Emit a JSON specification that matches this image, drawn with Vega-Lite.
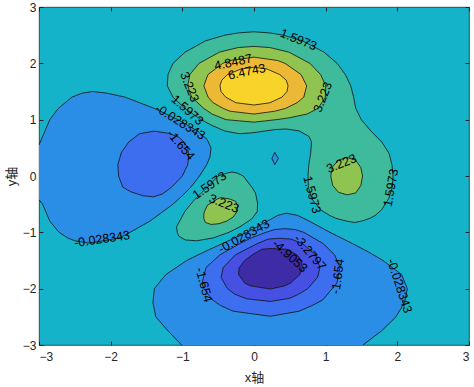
{
"$schema":"https://vega.github.io/schema/vega-lite/v6.json",
"width":430,"height":338,
"autosize":{"type":"none"},
"padding":{"left":39,"top":7,"right":5,"bottom":42},
"background":"#ffffff",
"config":{
"view":{"fill":"#14b3c9","stroke":"#262626","strokeWidth":0.8},
"axis":{"grid":false,"domain":false,"tickColor":"#262626","tickSize":-4,"labelColor":"#262626","labelFont":"Liberation Sans","labelFontSize":12,"titleFont":"Liberation Sans, Noto Sans CJK SC","titleFontSize":13,"titleFontWeight":"normal","titleColor":"#262626"}
},
"datasets":{
"poly":[
{"p":"a","c":"L3","d":1,"i":0,"x":-3.15,"y":0.55},{"p":"a","c":"L3","d":1,"i":1,"x":-3.0,"y":0.55},{"p":"a","c":"L3","d":1,"i":2,"x":-2.85,"y":1.0},{"p":"a","c":"L3","d":1,"i":3,"x":-2.73,"y":1.2},{"p":"a","c":"L3","d":1,"i":4,"x":-2.54,"y":1.4},{"p":"a","c":"L3","d":1,"i":5,"x":-2.4,"y":1.47},{"p":"a","c":"L3","d":1,"i":6,"x":-2.25,"y":1.5},{"p":"a","c":"L3","d":1,"i":7,"x":-2.05,"y":1.47},{"p":"a","c":"L3","d":1,"i":8,"x":-1.8,"y":1.4},{"p":"a","c":"L3","d":1,"i":9,"x":-1.39,"y":1.2},{"p":"a","c":"L3","d":1,"i":10,"x":-1.06,"y":1.0},{"p":"a","c":"L3","d":1,"i":11,"x":-0.79,"y":0.8},{"p":"a","c":"L3","d":1,"i":12,"x":-0.655,"y":0.65},{"p":"a","c":"L3","d":1,"i":13,"x":-0.6,"y":0.5},{"p":"a","c":"L3","d":1,"i":14,"x":-0.614,"y":0.34},{"p":"a","c":"L3","d":1,"i":15,"x":-0.66,"y":0.2},{"p":"a","c":"L3","d":1,"i":16,"x":-0.76,"y":0},{"p":"a","c":"L3","d":1,"i":17,"x":-0.883,"y":-0.2},{"p":"a","c":"L3","d":1,"i":18,"x":-1.0,"y":-0.35},{"p":"a","c":"L3","d":1,"i":19,"x":-1.13,"y":-0.5},{"p":"a","c":"L3","d":1,"i":20,"x":-1.45,"y":-0.8},{"p":"a","c":"L3","d":1,"i":21,"x":-1.73,"y":-1.0},{"p":"a","c":"L3","d":1,"i":22,"x":-1.88,"y":-1.1},{"p":"a","c":"L3","d":1,"i":23,"x":-2.1,"y":-1.15},{"p":"a","c":"L3","d":1,"i":24,"x":-2.3,"y":-1.19},{"p":"a","c":"L3","d":1,"i":25,"x":-2.5,"y":-1.15},{"p":"a","c":"L3","d":1,"i":26,"x":-2.6,"y":-1.1},{"p":"a","c":"L3","d":1,"i":27,"x":-2.72,"y":-1.0},{"p":"a","c":"L3","d":1,"i":28,"x":-2.85,"y":-0.8},{"p":"a","c":"L3","d":1,"i":29,"x":-2.95,"y":-0.5},{"p":"a","c":"L3","d":1,"i":30,"x":-3.0,"y":-0.42},{"p":"a","c":"L3","d":1,"i":31,"x":-3.15,"y":-0.42},{"p":"a","c":"L3","d":1,"i":32,"x":-3.15,"y":0.55},
{"p":"b","c":"L5","d":1,"i":0,"x":0,"y":2.56},{"p":"b","c":"L5","d":1,"i":1,"x":0.22,"y":2.54},{"p":"b","c":"L5","d":1,"i":2,"x":0.405,"y":2.5},{"p":"b","c":"L5","d":1,"i":3,"x":0.675,"y":2.4},{"p":"b","c":"L5","d":1,"i":4,"x":0.975,"y":2.2},{"p":"b","c":"L5","d":1,"i":5,"x":1.16,"y":2.0},{"p":"b","c":"L5","d":1,"i":6,"x":1.275,"y":1.8},{"p":"b","c":"L5","d":1,"i":7,"x":1.35,"y":1.6},{"p":"b","c":"L5","d":1,"i":8,"x":1.39,"y":1.4},{"p":"b","c":"L5","d":1,"i":9,"x":1.42,"y":1.2},{"p":"b","c":"L5","d":1,"i":10,"x":1.497,"y":1.0},{"p":"b","c":"L5","d":1,"i":11,"x":1.63,"y":0.8},{"p":"b","c":"L5","d":1,"i":12,"x":1.785,"y":0.6},{"p":"b","c":"L5","d":1,"i":13,"x":1.885,"y":0.4},{"p":"b","c":"L5","d":1,"i":14,"x":1.925,"y":0.2},{"p":"b","c":"L5","d":1,"i":15,"x":1.94,"y":0},{"p":"b","c":"L5","d":1,"i":16,"x":1.93,"y":-0.2},{"p":"b","c":"L5","d":1,"i":17,"x":1.88,"y":-0.4},{"p":"b","c":"L5","d":1,"i":18,"x":1.78,"y":-0.6},{"p":"b","c":"L5","d":1,"i":19,"x":1.69,"y":-0.7},{"p":"b","c":"L5","d":1,"i":20,"x":1.62,"y":-0.75},{"p":"b","c":"L5","d":1,"i":21,"x":1.505,"y":-0.8},{"p":"b","c":"L5","d":1,"i":22,"x":1.4,"y":-0.825},{"p":"b","c":"L5","d":1,"i":23,"x":1.29,"y":-0.8},{"p":"b","c":"L5","d":1,"i":24,"x":1.14,"y":-0.75},{"p":"b","c":"L5","d":1,"i":25,"x":1.055,"y":-0.7},{"p":"b","c":"L5","d":1,"i":26,"x":0.93,"y":-0.6},{"p":"b","c":"L5","d":1,"i":27,"x":0.804,"y":-0.4},{"p":"b","c":"L5","d":1,"i":28,"x":0.76,"y":-0.2},{"p":"b","c":"L5","d":1,"i":29,"x":0.753,"y":0},{"p":"b","c":"L5","d":1,"i":30,"x":0.765,"y":0.2},{"p":"b","c":"L5","d":1,"i":31,"x":0.79,"y":0.4},{"p":"b","c":"L5","d":1,"i":32,"x":0.803,"y":0.6},{"p":"b","c":"L5","d":1,"i":33,"x":0.77,"y":0.7},{"p":"b","c":"L5","d":1,"i":34,"x":0.63,"y":0.8},{"p":"b","c":"L5","d":1,"i":35,"x":0.45,"y":0.835},{"p":"b","c":"L5","d":1,"i":36,"x":0.3,"y":0.825},{"p":"b","c":"L5","d":1,"i":37,"x":0.16,"y":0.8},{"p":"b","c":"L5","d":1,"i":38,"x":0,"y":0.77},{"p":"b","c":"L5","d":1,"i":39,"x":-0.2,"y":0.75},{"p":"b","c":"L5","d":1,"i":40,"x":-0.41,"y":0.8},{"p":"b","c":"L5","d":1,"i":41,"x":-0.59,"y":0.9},{"p":"b","c":"L5","d":1,"i":42,"x":-0.735,"y":1.0},{"p":"b","c":"L5","d":1,"i":43,"x":-0.965,"y":1.2},{"p":"b","c":"L5","d":1,"i":44,"x":-1.13,"y":1.4},{"p":"b","c":"L5","d":1,"i":45,"x":-1.21,"y":1.6},{"p":"b","c":"L5","d":1,"i":46,"x":-1.2,"y":1.8},{"p":"b","c":"L5","d":1,"i":47,"x":-1.13,"y":2.0},{"p":"b","c":"L5","d":1,"i":48,"x":-0.96,"y":2.2},{"p":"b","c":"L5","d":1,"i":49,"x":-0.675,"y":2.4},{"p":"b","c":"L5","d":1,"i":50,"x":-0.405,"y":2.5},{"p":"b","c":"L5","d":1,"i":51,"x":-0.22,"y":2.54},{"p":"b","c":"L5","d":1,"i":52,"x":0,"y":2.56},
{"p":"c","c":"L5","d":1,"i":0,"x":-0.307,"y":0.071},{"p":"c","c":"L5","d":1,"i":1,"x":-0.23,"y":0.05},{"p":"c","c":"L5","d":1,"i":2,"x":-0.15,"y":0},{"p":"c","c":"L5","d":1,"i":3,"x":-0.03,"y":-0.2},{"p":"c","c":"L5","d":1,"i":4,"x":0.02,"y":-0.3},{"p":"c","c":"L5","d":1,"i":5,"x":0.05,"y":-0.48},{"p":"c","c":"L5","d":1,"i":6,"x":0.045,"y":-0.63},{"p":"c","c":"L5","d":1,"i":7,"x":-0.03,"y":-0.76},{"p":"c","c":"L5","d":1,"i":8,"x":-0.195,"y":-0.9},{"p":"c","c":"L5","d":1,"i":9,"x":-0.35,"y":-1.0},{"p":"c","c":"L5","d":1,"i":10,"x":-0.57,"y":-1.1},{"p":"c","c":"L5","d":1,"i":11,"x":-0.8,"y":-1.15},{"p":"c","c":"L5","d":1,"i":12,"x":-0.96,"y":-1.135},{"p":"c","c":"L5","d":1,"i":13,"x":-1.05,"y":-1.065},{"p":"c","c":"L5","d":1,"i":14,"x":-1.07,"y":-1.0},{"p":"c","c":"L5","d":1,"i":15,"x":-1.08,"y":-0.9},{"p":"c","c":"L5","d":1,"i":16,"x":-1.02,"y":-0.76},{"p":"c","c":"L5","d":1,"i":17,"x":-0.965,"y":-0.63},{"p":"c","c":"L5","d":1,"i":18,"x":-0.85,"y":-0.45},{"p":"c","c":"L5","d":1,"i":19,"x":-0.735,"y":-0.3},{"p":"c","c":"L5","d":1,"i":20,"x":-0.65,"y":-0.2},{"p":"c","c":"L5","d":1,"i":21,"x":-0.5,"y":0},{"p":"c","c":"L5","d":1,"i":22,"x":-0.38,"y":0.05},{"p":"c","c":"L5","d":1,"i":23,"x":-0.307,"y":0.071},
{"p":"e","c":"L3","d":1,"i":0,"x":-1.01,"y":-3.15},{"p":"e","c":"L3","d":1,"i":1,"x":-1.01,"y":-3.0},{"p":"e","c":"L3","d":1,"i":2,"x":-1.2,"y":-2.75},{"p":"e","c":"L3","d":1,"i":3,"x":-1.37,"y":-2.5},{"p":"e","c":"L3","d":1,"i":4,"x":-1.41,"y":-2.25},{"p":"e","c":"L3","d":1,"i":5,"x":-1.39,"y":-2.0},{"p":"e","c":"L3","d":1,"i":6,"x":-1.23,"y":-1.75},{"p":"e","c":"L3","d":1,"i":7,"x":-0.94,"y":-1.5},{"p":"e","c":"L3","d":1,"i":8,"x":-0.78,"y":-1.4},{"p":"e","c":"L3","d":1,"i":9,"x":-0.615,"y":-1.3},{"p":"e","c":"L3","d":1,"i":10,"x":-0.44,"y":-1.2},{"p":"e","c":"L3","d":1,"i":11,"x":-0.27,"y":-1.1},{"p":"e","c":"L3","d":1,"i":12,"x":-0.1,"y":-1.0},{"p":"e","c":"L3","d":1,"i":13,"x":0.045,"y":-0.9},{"p":"e","c":"L3","d":1,"i":14,"x":0.185,"y":-0.8},{"p":"e","c":"L3","d":1,"i":15,"x":0.26,"y":-0.75},{"p":"e","c":"L3","d":1,"i":16,"x":0.33,"y":-0.7},{"p":"e","c":"L3","d":1,"i":17,"x":0.45,"y":-0.66},{"p":"e","c":"L3","d":1,"i":18,"x":0.61,"y":-0.7},{"p":"e","c":"L3","d":1,"i":19,"x":0.77,"y":-0.8},{"p":"e","c":"L3","d":1,"i":20,"x":1.06,"y":-1.0},{"p":"e","c":"L3","d":1,"i":21,"x":1.375,"y":-1.2},{"p":"e","c":"L3","d":1,"i":22,"x":1.6,"y":-1.35},{"p":"e","c":"L3","d":1,"i":23,"x":1.8,"y":-1.5},{"p":"e","c":"L3","d":1,"i":24,"x":2.06,"y":-1.75},{"p":"e","c":"L3","d":1,"i":25,"x":2.14,"y":-2.0},{"p":"e","c":"L3","d":1,"i":26,"x":2.1,"y":-2.25},{"p":"e","c":"L3","d":1,"i":27,"x":1.98,"y":-2.5},{"p":"e","c":"L3","d":1,"i":28,"x":1.78,"y":-2.75},{"p":"e","c":"L3","d":1,"i":29,"x":1.52,"y":-3.0},{"p":"e","c":"L3","d":1,"i":30,"x":1.52,"y":-3.15},{"p":"e","c":"L3","d":1,"i":31,"x":-1.01,"y":-3.15},
{"p":"f","c":"L3","d":1,"i":0,"x":0.29,"y":0.42},{"p":"f","c":"L3","d":1,"i":1,"x":0.34,"y":0.31},{"p":"f","c":"L3","d":1,"i":2,"x":0.29,"y":0.2},{"p":"f","c":"L3","d":1,"i":3,"x":0.25,"y":0.31},{"p":"f","c":"L3","d":1,"i":4,"x":0.29,"y":0.42},
{"p":"g","c":"L2","d":2,"i":0,"x":-1.4,"y":0.796},{"p":"g","c":"L2","d":2,"i":1,"x":-1.2,"y":0.76},{"p":"g","c":"L2","d":2,"i":2,"x":-1.05,"y":0.69},{"p":"g","c":"L2","d":2,"i":3,"x":-0.975,"y":0.6},{"p":"g","c":"L2","d":2,"i":4,"x":-0.925,"y":0.5},{"p":"g","c":"L2","d":2,"i":5,"x":-0.91,"y":0.35},{"p":"g","c":"L2","d":2,"i":6,"x":-0.925,"y":0.2},{"p":"g","c":"L2","d":2,"i":7,"x":-1.0,"y":0},{"p":"g","c":"L2","d":2,"i":8,"x":-1.15,"y":-0.2},{"p":"g","c":"L2","d":2,"i":9,"x":-1.28,"y":-0.32},{"p":"g","c":"L2","d":2,"i":10,"x":-1.4,"y":-0.37},{"p":"g","c":"L2","d":2,"i":11,"x":-1.55,"y":-0.35},{"p":"g","c":"L2","d":2,"i":12,"x":-1.72,"y":-0.28},{"p":"g","c":"L2","d":2,"i":13,"x":-1.83,"y":-0.2},{"p":"g","c":"L2","d":2,"i":14,"x":-1.89,"y":0},{"p":"g","c":"L2","d":2,"i":15,"x":-1.9,"y":0.2},{"p":"g","c":"L2","d":2,"i":16,"x":-1.85,"y":0.42},{"p":"g","c":"L2","d":2,"i":17,"x":-1.75,"y":0.6},{"p":"g","c":"L2","d":2,"i":18,"x":-1.6,"y":0.75},{"p":"g","c":"L2","d":2,"i":19,"x":-1.4,"y":0.796},
{"p":"h","c":"L6","d":2,"i":0,"x":0,"y":2.3},{"p":"h","c":"L6","d":2,"i":1,"x":0.22,"y":2.28},{"p":"h","c":"L6","d":2,"i":2,"x":0.485,"y":2.2},{"p":"h","c":"L6","d":2,"i":3,"x":0.78,"y":2.0},{"p":"h","c":"L6","d":2,"i":4,"x":0.93,"y":1.8},{"p":"h","c":"L6","d":2,"i":5,"x":1.0,"y":1.6},{"p":"h","c":"L6","d":2,"i":6,"x":0.996,"y":1.4},{"p":"h","c":"L6","d":2,"i":7,"x":0.893,"y":1.2},{"p":"h","c":"L6","d":2,"i":8,"x":0.74,"y":1.1},{"p":"h","c":"L6","d":2,"i":9,"x":0.5,"y":1.035},{"p":"h","c":"L6","d":2,"i":10,"x":0.31,"y":1.0},{"p":"h","c":"L6","d":2,"i":11,"x":0,"y":0.956},{"p":"h","c":"L6","d":2,"i":12,"x":-0.39,"y":1.0},{"p":"h","c":"L6","d":2,"i":13,"x":-0.585,"y":1.1},{"p":"h","c":"L6","d":2,"i":14,"x":-0.7,"y":1.2},{"p":"h","c":"L6","d":2,"i":15,"x":-0.87,"y":1.4},{"p":"h","c":"L6","d":2,"i":16,"x":-0.925,"y":1.6},{"p":"h","c":"L6","d":2,"i":17,"x":-0.895,"y":1.8},{"p":"h","c":"L6","d":2,"i":18,"x":-0.767,"y":2.0},{"p":"h","c":"L6","d":2,"i":19,"x":-0.48,"y":2.2},{"p":"h","c":"L6","d":2,"i":20,"x":-0.22,"y":2.28},{"p":"h","c":"L6","d":2,"i":21,"x":0,"y":2.3},
{"p":"k","c":"L6","d":2,"i":0,"x":1.29,"y":0.33},{"p":"k","c":"L6","d":2,"i":1,"x":1.42,"y":0.28},{"p":"k","c":"L6","d":2,"i":2,"x":1.49,"y":0.15},{"p":"k","c":"L6","d":2,"i":3,"x":1.515,"y":0},{"p":"k","c":"L6","d":2,"i":4,"x":1.49,"y":-0.17},{"p":"k","c":"L6","d":2,"i":5,"x":1.42,"y":-0.3},{"p":"k","c":"L6","d":2,"i":6,"x":1.3,"y":-0.335},{"p":"k","c":"L6","d":2,"i":7,"x":1.18,"y":-0.29},{"p":"k","c":"L6","d":2,"i":8,"x":1.1,"y":-0.17},{"p":"k","c":"L6","d":2,"i":9,"x":1.07,"y":0},{"p":"k","c":"L6","d":2,"i":10,"x":1.1,"y":0.17},{"p":"k","c":"L6","d":2,"i":11,"x":1.18,"y":0.28},{"p":"k","c":"L6","d":2,"i":12,"x":1.29,"y":0.33},
{"p":"m","c":"L6","d":2,"i":0,"x":-0.46,"y":-0.383},{"p":"m","c":"L6","d":2,"i":1,"x":-0.335,"y":-0.41},{"p":"m","c":"L6","d":2,"i":2,"x":-0.257,"y":-0.45},{"p":"m","c":"L6","d":2,"i":3,"x":-0.23,"y":-0.53},{"p":"m","c":"L6","d":2,"i":4,"x":-0.235,"y":-0.63},{"p":"m","c":"L6","d":2,"i":5,"x":-0.293,"y":-0.73},{"p":"m","c":"L6","d":2,"i":6,"x":-0.38,"y":-0.8},{"p":"m","c":"L6","d":2,"i":7,"x":-0.49,"y":-0.847},{"p":"m","c":"L6","d":2,"i":8,"x":-0.6,"y":-0.86},{"p":"m","c":"L6","d":2,"i":9,"x":-0.677,"y":-0.825},{"p":"m","c":"L6","d":2,"i":10,"x":-0.7,"y":-0.76},{"p":"m","c":"L6","d":2,"i":11,"x":-0.7,"y":-0.675},{"p":"m","c":"L6","d":2,"i":12,"x":-0.69,"y":-0.63},{"p":"m","c":"L6","d":2,"i":13,"x":-0.65,"y":-0.52},{"p":"m","c":"L6","d":2,"i":14,"x":-0.56,"y":-0.45},{"p":"m","c":"L6","d":2,"i":15,"x":-0.516,"y":-0.41},{"p":"m","c":"L6","d":2,"i":16,"x":-0.46,"y":-0.383},
{"p":"n","c":"L2","d":2,"i":0,"x":0.165,"y":-1.0},{"p":"n","c":"L2","d":2,"i":1,"x":0.29,"y":-0.95},{"p":"n","c":"L2","d":2,"i":2,"x":0.43,"y":-0.935},{"p":"n","c":"L2","d":2,"i":3,"x":0.57,"y":-0.95},{"p":"n","c":"L2","d":2,"i":4,"x":0.695,"y":-1.0},{"p":"n","c":"L2","d":2,"i":5,"x":0.966,"y":-1.2},{"p":"n","c":"L2","d":2,"i":6,"x":1.125,"y":-1.4},{"p":"n","c":"L2","d":2,"i":7,"x":1.2,"y":-1.626},{"p":"n","c":"L2","d":2,"i":8,"x":1.157,"y":-1.9},{"p":"n","c":"L2","d":2,"i":9,"x":0.96,"y":-2.2},{"p":"n","c":"L2","d":2,"i":10,"x":0.81,"y":-2.3},{"p":"n","c":"L2","d":2,"i":11,"x":0.63,"y":-2.4},{"p":"n","c":"L2","d":2,"i":12,"x":0.228,"y":-2.49},{"p":"n","c":"L2","d":2,"i":13,"x":-0.29,"y":-2.4},{"p":"n","c":"L2","d":2,"i":14,"x":-0.465,"y":-2.3},{"p":"n","c":"L2","d":2,"i":15,"x":-0.58,"y":-2.2},{"p":"n","c":"L2","d":2,"i":16,"x":-0.7,"y":-2.0},{"p":"n","c":"L2","d":2,"i":17,"x":-0.725,"y":-1.9},{"p":"n","c":"L2","d":2,"i":18,"x":-0.67,"y":-1.626},{"p":"n","c":"L2","d":2,"i":19,"x":-0.476,"y":-1.4},{"p":"n","c":"L2","d":2,"i":20,"x":-0.198,"y":-1.2},{"p":"n","c":"L2","d":2,"i":21,"x":-0.04,"y":-1.1},{"p":"n","c":"L2","d":2,"i":22,"x":0.165,"y":-1.0},
{"p":"q","c":"L7","d":3,"i":0,"x":0,"y":2.11},{"p":"q","c":"L7","d":3,"i":1,"x":0.33,"y":2.05},{"p":"q","c":"L7","d":3,"i":2,"x":0.433,"y":2.0},{"p":"q","c":"L7","d":3,"i":3,"x":0.657,"y":1.8},{"p":"q","c":"L7","d":3,"i":4,"x":0.735,"y":1.6},{"p":"q","c":"L7","d":3,"i":5,"x":0.695,"y":1.4},{"p":"q","c":"L7","d":3,"i":6,"x":0.6,"y":1.3},{"p":"q","c":"L7","d":3,"i":7,"x":0.44,"y":1.2},{"p":"q","c":"L7","d":3,"i":8,"x":0.29,"y":1.15},{"p":"q","c":"L7","d":3,"i":9,"x":0,"y":1.1},{"p":"q","c":"L7","d":3,"i":10,"x":-0.335,"y":1.15},{"p":"q","c":"L7","d":3,"i":11,"x":-0.43,"y":1.2},{"p":"q","c":"L7","d":3,"i":12,"x":-0.57,"y":1.3},{"p":"q","c":"L7","d":3,"i":13,"x":-0.64,"y":1.4},{"p":"q","c":"L7","d":3,"i":14,"x":-0.7,"y":1.6},{"p":"q","c":"L7","d":3,"i":15,"x":-0.643,"y":1.8},{"p":"q","c":"L7","d":3,"i":16,"x":-0.435,"y":2.0},{"p":"q","c":"L7","d":3,"i":17,"x":-0.33,"y":2.05},{"p":"q","c":"L7","d":3,"i":18,"x":0,"y":2.11},
{"p":"r","c":"L1","d":3,"i":0,"x":0.2,"y":-1.12},{"p":"r","c":"L1","d":3,"i":1,"x":0.36,"y":-1.105},{"p":"r","c":"L1","d":3,"i":2,"x":0.516,"y":-1.12},{"p":"r","c":"L1","d":3,"i":3,"x":0.675,"y":-1.2},{"p":"r","c":"L1","d":3,"i":4,"x":0.86,"y":-1.4},{"p":"r","c":"L1","d":3,"i":5,"x":0.92,"y":-1.626},{"p":"r","c":"L1","d":3,"i":6,"x":0.886,"y":-1.8},{"p":"r","c":"L1","d":3,"i":7,"x":0.75,"y":-2.0},{"p":"r","c":"L1","d":3,"i":8,"x":0.62,"y":-2.1},{"p":"r","c":"L1","d":3,"i":9,"x":0.5,"y":-2.17},{"p":"r","c":"L1","d":3,"i":10,"x":0.228,"y":-2.227},{"p":"r","c":"L1","d":3,"i":11,"x":-0.1,"y":-2.18},{"p":"r","c":"L1","d":3,"i":12,"x":-0.265,"y":-2.1},{"p":"r","c":"L1","d":3,"i":13,"x":-0.37,"y":-2.0},{"p":"r","c":"L1","d":3,"i":14,"x":-0.46,"y":-1.8},{"p":"r","c":"L1","d":3,"i":15,"x":-0.43,"y":-1.626},{"p":"r","c":"L1","d":3,"i":16,"x":-0.26,"y":-1.4},{"p":"r","c":"L1","d":3,"i":17,"x":0.045,"y":-1.2},{"p":"r","c":"L1","d":3,"i":18,"x":0.2,"y":-1.12},
{"p":"s","c":"L8","d":4,"i":0,"x":0,"y":1.93},{"p":"s","c":"L8","d":4,"i":1,"x":0.18,"y":1.9},{"p":"s","c":"L8","d":4,"i":2,"x":0.36,"y":1.8},{"p":"s","c":"L8","d":4,"i":3,"x":0.45,"y":1.7},{"p":"s","c":"L8","d":4,"i":4,"x":0.475,"y":1.6},{"p":"s","c":"L8","d":4,"i":5,"x":0.46,"y":1.5},{"p":"s","c":"L8","d":4,"i":6,"x":0.39,"y":1.4},{"p":"s","c":"L8","d":4,"i":7,"x":0.22,"y":1.3},{"p":"s","c":"L8","d":4,"i":8,"x":0,"y":1.26},{"p":"s","c":"L8","d":4,"i":9,"x":-0.25,"y":1.3},{"p":"s","c":"L8","d":4,"i":10,"x":-0.395,"y":1.4},{"p":"s","c":"L8","d":4,"i":11,"x":-0.46,"y":1.5},{"p":"s","c":"L8","d":4,"i":12,"x":-0.475,"y":1.6},{"p":"s","c":"L8","d":4,"i":13,"x":-0.45,"y":1.7},{"p":"s","c":"L8","d":4,"i":14,"x":-0.37,"y":1.8},{"p":"s","c":"L8","d":4,"i":15,"x":-0.18,"y":1.9},{"p":"s","c":"L8","d":4,"i":16,"x":0,"y":1.93},
{"p":"u","c":"L0","d":4,"i":0,"x":0.11,"y":-1.3},{"p":"u","c":"L0","d":4,"i":1,"x":0.228,"y":-1.287},{"p":"u","c":"L0","d":4,"i":2,"x":0.46,"y":-1.3},{"p":"u","c":"L0","d":4,"i":3,"x":0.6,"y":-1.4},{"p":"u","c":"L0","d":4,"i":4,"x":0.66,"y":-1.5},{"p":"u","c":"L0","d":4,"i":5,"x":0.675,"y":-1.626},{"p":"u","c":"L0","d":4,"i":6,"x":0.64,"y":-1.75},{"p":"u","c":"L0","d":4,"i":7,"x":0.51,"y":-1.9},{"p":"u","c":"L0","d":4,"i":8,"x":0.43,"y":-1.95},{"p":"u","c":"L0","d":4,"i":9,"x":0.228,"y":-2.006},{"p":"u","c":"L0","d":4,"i":10,"x":-0.05,"y":-1.95},{"p":"u","c":"L0","d":4,"i":11,"x":-0.13,"y":-1.9},{"p":"u","c":"L0","d":4,"i":12,"x":-0.215,"y":-1.75},{"p":"u","c":"L0","d":4,"i":13,"x":-0.207,"y":-1.626},{"p":"u","c":"L0","d":4,"i":14,"x":-0.13,"y":-1.5},{"p":"u","c":"L0","d":4,"i":15,"x":-0.025,"y":-1.4},{"p":"u","c":"L0","d":4,"i":16,"x":0.11,"y":-1.3}
],
"lab":[
{"t":"1.5973","x":0.62,"y":2.42,"a":22},
{"t":"4.8487","x":-0.29,"y":2.02,"a":-12},
{"t":"6.4743","x":-0.1,"y":1.85,"a":-12},
{"t":"3.223","x":-0.9,"y":1.58,"a":68},
{"t":"3.223","x":0.96,"y":1.4,"a":-68},
{"t":"1.5973","x":-0.93,"y":1.17,"a":42},
{"t":"-0.028343","x":-1.03,"y":0.96,"a":32},
{"t":"-1.654","x":-1.02,"y":0.55,"a":50},
{"t":"1.5973","x":-0.62,"y":-0.17,"a":-35},
{"t":"3.223","x":-0.42,"y":-0.49,"a":22},
{"t":"-0.028343","x":-0.14,"y":-1.07,"a":-29},
{"t":"-3.2797","x":0.78,"y":-1.36,"a":50},
{"t":"-4.9053","x":0.5,"y":-1.42,"a":42},
{"t":"-1.654","x":-0.7,"y":-1.93,"a":75},
{"t":"-1.654","x":1.17,"y":-1.78,"a":-82},
{"t":"-0.028343","x":2.03,"y":-1.95,"a":72},
{"t":"1.5973","x":0.81,"y":-0.33,"a":75},
{"t":"3.223","x":1.22,"y":0.22,"a":-22},
{"t":"1.5973","x":1.91,"y":-0.21,"a":-80},
{"t":"-0.028343","x":-2.12,"y":-1.12,"a":-8}
]
},
"layer":[
{"data":{"name":"poly"},"transform":[{"filter":"datum.d == 1"}],
"mark":{"type":"line","clip":true,"stroke":"#111111","strokeWidth":0.8,"strokeJoin":"round"},
"encoding":{
"x":{"field":"x","type":"quantitative","scale":{"domain":[-3,3],"nice":false,"zero":false},"axis":{"values":[-3,-2,-1,0,1,2,3],"format":"d","title":"x轴","labelPadding":10,"titlePadding":9}},
"y":{"field":"y","type":"quantitative","scale":{"domain":[-3,3],"nice":false,"zero":false},"axis":{"values":[-3,-2,-1,0,1,2,3],"format":"d","title":"y轴","labelPadding":7,"titlePadding":4}},
"fill":{"field":"c","type":"nominal","scale":{"domain":["L0","L1","L2","L3","L4","L5","L6","L7","L8"],"range":["#3e2ba6","#4650e2","#3e6ef0","#2b8ee6","#14b3c9","#3dbb9c","#8ec44f","#ebb935","#f8d42a"]},"legend":null},"detail":{"field":"p"},"order":{"field":"i","type":"quantitative"}}},
{"data":{"name":"poly"},"transform":[{"filter":"datum.d == 2"}],
"mark":{"type":"line","clip":true,"stroke":"#111111","strokeWidth":0.8,"strokeJoin":"round"},
"encoding":{
"x":{"field":"x","type":"quantitative","axis":null},
"y":{"field":"y","type":"quantitative","axis":null},
"fill":{"field":"c","type":"nominal","legend":null},"detail":{"field":"p"},"order":{"field":"i","type":"quantitative"}}},
{"data":{"name":"poly"},"transform":[{"filter":"datum.d == 3"}],
"mark":{"type":"line","clip":true,"stroke":"#111111","strokeWidth":0.8,"strokeJoin":"round"},
"encoding":{
"x":{"field":"x","type":"quantitative","axis":null},
"y":{"field":"y","type":"quantitative","axis":null},
"fill":{"field":"c","type":"nominal","legend":null},"detail":{"field":"p"},"order":{"field":"i","type":"quantitative"}}},
{"data":{"name":"poly"},"transform":[{"filter":"datum.d == 4"}],
"mark":{"type":"line","clip":true,"stroke":"#111111","strokeWidth":0.8,"strokeJoin":"round"},
"encoding":{
"x":{"field":"x","type":"quantitative","axis":null},
"y":{"field":"y","type":"quantitative","axis":null},
"fill":{"field":"c","type":"nominal","legend":null},"detail":{"field":"p"},"order":{"field":"i","type":"quantitative"}}},
{"data":{"name":"lab"},
"mark":{"type":"text","font":"Liberation Sans","fontSize":12.5,"color":"#000000","align":"center","baseline":"middle"},
"encoding":{
"x":{"field":"x","type":"quantitative","axis":{"orient":"top","values":[-3,-2,-1,0,1,2,3],"labels":false,"title":null}},
"y":{"field":"y","type":"quantitative","axis":{"orient":"right","values":[-3,-2,-1,0,1,2,3],"labels":false,"title":null}},
"text":{"field":"t"},"angle":{"field":"a","type":"quantitative","scale":null}}}
],
"resolve":{"axis":{"x":"independent","y":"independent"}}
}
